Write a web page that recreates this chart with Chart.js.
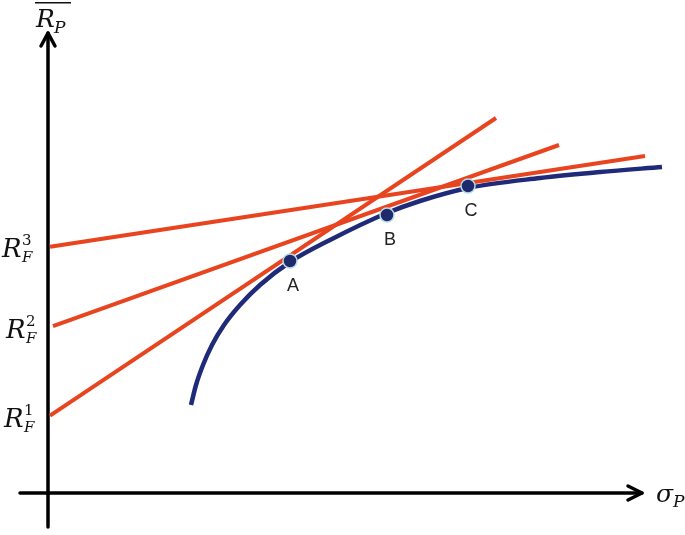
<!DOCTYPE html>
<html>
<head>
<meta charset="utf-8">
<script src="https://cdn.jsdelivr.net/npm/chart.js@4.4.0/dist/chart.umd.min.js"></script>
<style>
  body { margin: 0; background: #fff; }
  #chart { display: block; }
</style>
</head>
<body>
<canvas id="chart" width="685" height="535"></canvas>
<script>
// values measured from the axes origin (sigma_P to the right, R_P upwards)
const frontierSigma = [143, 148, 155, 164, 176, 192, 212, 242, 282, 339, 372, 420, 492, 552, 614];
const frontierReturn = [88, 108, 128, 148, 168, 188, 208, 231, 253, 280, 292, 305, 315, 321, 326];

const riskFreeLabels = ['1', '2', '3'];
const riskFreeRates = [76, 165, 246];
const lineStartSigma = [2, 5, 2];
const lineEndSigma = [448, 511, 597];
const lineEndReturn = [375, 348, 337];

const pointLabels = ['A', 'B', 'C'];
const pointSigma = [242, 339, 420];
const pointReturn = [232, 278, 307];

const RED = '#e8441f';
const BLUE = '#1f2a78';

const datasets = [];

datasets.push({
    label: 'portfolios',
    data: pointSigma.map((x, i) => ({ x: x, y: pointReturn[i] })),
    showLine: false,
    pointRadius: 7,
    pointBackgroundColor: '#1f2a6e',
    pointBorderColor: '#b5dde3',
    pointBorderWidth: 1.5,
    order: 0
});

riskFreeRates.forEach((rf, i) => {
    datasets.push({
        label: 'line ' + riskFreeLabels[i],
        data: [{ x: lineStartSigma[i], y: rf + (lineEndReturn[i] - rf) * lineStartSigma[i] / lineEndSigma[i] }, { x: lineEndSigma[i], y: lineEndReturn[i] }],
        showLine: true,
        borderColor: RED,
        borderWidth: 4,
        pointRadius: 0,
        order: 1
    });
});

datasets.push({
    label: 'frontier',
    data: frontierSigma.map((x, i) => ({ x: x, y: frontierReturn[i] })),
    showLine: true,
    borderColor: BLUE,
    borderWidth: 4.5,
    cubicInterpolationMode: 'monotone',
    pointRadius: 0,
    order: 2
});

const axesPlugin = {
    id: 'axes',
    beforeDatasetsDraw(chart) {
        const ctx = chart.ctx;
        const xs = chart.scales.x, ys = chart.scales.y;
        const ox = xs.getPixelForValue(0), oy = ys.getPixelForValue(0);
        const topY = ys.getPixelForValue(460), rightX = xs.getPixelForValue(594);
        ctx.save();
        ctx.strokeStyle = '#000';
        ctx.lineWidth = 3.5;
        ctx.lineCap = 'round';
        ctx.lineJoin = 'round';
        ctx.beginPath();
        ctx.moveTo(ox, ys.getPixelForValue(-34));
        ctx.lineTo(ox, topY);
        ctx.moveTo(xs.getPixelForValue(-28), oy);
        ctx.lineTo(rightX, oy);
        ctx.stroke();
        ctx.beginPath();
        ctx.moveTo(ox - 7, topY + 13);
        ctx.lineTo(ox, topY);
        ctx.lineTo(ox + 7, topY + 13);
        ctx.moveTo(rightX - 14, oy - 7);
        ctx.lineTo(rightX, oy);
        ctx.lineTo(rightX - 14, oy + 7);
        ctx.stroke();
        ctx.restore();
    },
    afterDatasetsDraw(chart) {
        const ctx = chart.ctx;
        const xs = chart.scales.x, ys = chart.scales.y;
        ctx.save();
        ctx.fillStyle = '#111';
        ctx.textBaseline = 'alphabetic';
        const ital = (s) => 'italic ' + s + 'px "DejaVu Serif", serif';
        const upr = (s) => s + 'px "DejaVu Serif", serif';

        // R_P with bar
        ctx.font = ital(25);
        ctx.fillText('R', 36, 27);
        ctx.font = ital(17);
        ctx.fillText('P', 54, 33);
        ctx.fillRect(35, 2, 36, 1.5);

        // sigma_P
        ctx.font = ital(25);
        ctx.fillText('σ', 656, 502);
        ctx.font = ital(17);
        ctx.fillText('P', 673, 507);

        // R_F labels
        const labelX = [4, 6, 2];
        riskFreeRates.forEach((rf, i) => {
            const py = ys.getPixelForValue(rf);
            const x0 = labelX[i];
            ctx.font = ital(26);
            ctx.fillText('R', x0, py + 10);
            ctx.font = upr(15);
            ctx.fillText(riskFreeLabels[i], x0 + 20, py - 2);
            ctx.font = ital(15);
            ctx.fillText('F', x0 + 20, py + 15);
        });

        // point labels
        ctx.font = '18px "Liberation Sans", Arial, sans-serif';
        ctx.fillStyle = '#222';
        ctx.textAlign = 'center';
        pointLabels.forEach((t, i) => {
            ctx.fillText(t, xs.getPixelForValue(pointSigma[i]) + 3, ys.getPixelForValue(pointReturn[i]) + 30);
        });
        ctx.restore();
    }
};

new Chart(document.getElementById('chart'), {
    type: 'scatter',
    data: { datasets: datasets },
    options: {
        responsive: false,
        animation: false,
        layout: { padding: 0, autoPadding: false },
        plugins: { legend: { display: false }, tooltip: { enabled: false } },
        scales: {
            x: { type: 'linear', min: -48, max: 637, display: false },
            y: { type: 'linear', min: -42, max: 493, display: false }
        }
    },
    plugins: [axesPlugin]
});
</script>
</body>
</html>
